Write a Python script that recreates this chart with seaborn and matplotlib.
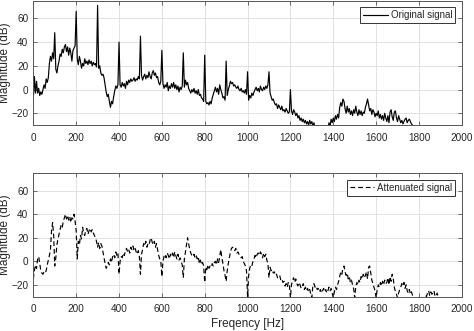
import numpy as np
import pandas as pd
import matplotlib
matplotlib.use("Agg")
import matplotlib.pyplot as plt
import seaborn as sns

# Magnitude spectra sampled every 5 Hz, one row of 20 values per 100 Hz band
FREQ_STEP = 5

original_db = [
    -8, 11, -3, 7, -3, 1, -5, -2, -4, 0, 4, 1, 9, 6, 10, 22, 28, 24, 31, 26,
    48, 17, 14, 20, 24, 30, 28, 34, 31, 36, 38, 32, 36, 29, 35, 31, 24, 33, 35, 37,
    66, 26, 21, 28, 24, 18, 22, 20, 26, 22, 24, 21, 25, 22, 24, 20, 23, 21, 22, 19,
    71, 18, 20, 14, 12, 13, 10, 4, -2, -6, -4, -10, -15, -10, -12, -6, -1, 3, 1, 4,
    40, 4, 2, 6, 3, 5, 1, 7, 4, 8, 6, 9, 7, 8, 10, 7, 9, 8, 11, 9,
    45, 12, 8, 11, 13, 9, 12, 10, 15, 11, 9, 14, 16, 12, 14, 10, 11, 6, 4, 7,
    33, 5, 1, 4, 2, 6, -1, 3, 1, 5, 2, 6, 1, 4, 0, 3, -2, 2, 0, 3,
    31, 2, 8, 4, 6, 1, -1, -3, 0, -2, 1, -3, -1, -4, 0, -5, -4, -7, -8, -10,
    29, -10, -12, -11, -13, -10, -12, -7, -4, -1, 2, -2, 1, -4, 4, 0, -3, -7, -6, -9,
    24, -5, 0, 3, 7, 5, 6, 3, 4, 2, 1, 3, 0, -1, 1, -2, -1, -3, 0, -4,
    15, -9, -5, -7, -3, -5, -2, 0, 2, -1, 1, -2, 3, 0, -1, 2, 0, 3, 1, 4,
    15, -3, -6, -9, -8, -11, -13, -12, -16, -13, -15, -17, -14, -18, -17, -19, -16, -18, -20, -19,
    0, -18, -21, -17, -19, -22, -20, -24, -22, -26, -24, -27, -25, -28, -26, -29, -27, -30, -26, -29,
    -27, -31, -28, -33, -35, -37, -38, -36, -38, -39, -37, -36, -38, -35, -34, -33, -28, -31, -25, -28,
    -24, -27, -22, -25, -21, -24, -15, -11, -14, -8, -10, -16, -20, -14, -19, -16, -21, -18, -22, -17,
    -20, -14, -19, -22, -17, -21, -18, -22, -19, -20, -15, -12, -8, -13, -18, -16, -21, -17, -19, -23,
    -20, -22, -18, -24, -21, -25, -22, -26, -20, -24, -27, -22, -28, -19, -17, -23, -26, -19, -18, -24,
    -27, -22, -25, -28, -26, -29, -27, -25, -24, -28, -26, -25, -27, -29, -30, -33, -36,
]

attenuated_db = [
    -15, -8, -3, -6, 2, 4, -2, -8, -10, -11, -9, -10, -8, -3, 1, 5, 10, 26, 33, 22,
    -4, 3, 14, 19, 23, 27, 31, 29, 34, 37, 40, 36, 39, 35, 38, 33, 37, 36, 40, 34,
    26, 2, 17, 14, 22, 19, 29, 24, 22, 27, 28, 23, 26, 28, 25, 27, 24, 22, 20, 17,
    12, 16, 11, 15, 13, 8, 3, -2, -6, -4, -1, -3, 2, -1, 4, 6, 3, 8, 5, 7,
    -11, 0, 4, 3, 7, 5, 9, 11, 8, 10, 7, 12, 10, 13, 9, 11, 8, 6, 9, 4,
    -11, 6, 10, 15, 13, 17, 12, 15, 14, 18, 20, 16, 14, 17, 12, 15, 10, 5, 2, 0,
    -13, 0, 4, 6, 3, 7, 5, 2, 6, 4, 7, 3, 8, 5, 2, 6, 1, 3, 0, -3,
    -14, 2, 8, 14, 20, 15, 10, 7, 5, 4, 6, 3, 5, 2, 4, -2, 1, -3, -1, -4,
    -18, -5, -7, -3, -6, -4, -5, -2, -4, -1, 0, -3, 2, -1, 4, 10, 3, -2, -8, -12,
    -17, -8, -2, 3, 8, 11, 12, 10, 9, 11, 7, 8, 6, 5, 3, 4, 0, -2, -4, -8,
    -30, -12, -6, -3, -4, 0, 2, 5, 3, 6, 7, 5, 8, 6, 3, 7, 4, 6, 1, -2,
    -14, -5, -8, -7, -10, -9, -12, -11, -14, -13, -12, -16, -15, -18, -17, -21, -19, -22, -18, -20,
    -31, -20, -16, -14, -18, -15, -19, -21, -18, -20, -23, -21, -19, -24, -22, -25, -23, -26, -24, -28,
    -31, -20, -19, -22, -21, -24, -23, -26, -24, -27, -25, -23, -26, -24, -27, -25, -22, -25, -23, -27,
    -31, -26, -22, -24, -20, -17, -13, -9, -11, -6, -4, -9, -12, -10, -15, -13, -18, -16, -20, -23,
    -31, -22, -18, -20, -16, -18, -13, -15, -11, -14, -12, -9, -15, -5, -4, -10, -16, -19, -22, -25,
    -31, -24, -20, -22, -18, -21, -17, -20, -16, -19, -18, -14, -20, -13, -17, -11, -15, -22, -26, -28,
    -31, -27, -24, -22, -19, -21, -18, -23, -20, -25, -27, -24, -28, -26, -29, -31, -33, -35, -34, -32,
    -34, -36, -33, -35, -31, -32, -29, -30, -27, -25, -29, -26, -28, -27, -25, -30, -29, -27, -31,
]

original_freq = np.arange(len(original_db)) * FREQ_STEP
attenuated_freq = np.arange(len(attenuated_db)) * FREQ_STEP

x_ticks = list(range(0, 2001, 200))
y_ticks = [-20, 0, 20, 40, 60]

original = pd.DataFrame({"freq": original_freq, "mag": original_db})
attenuated = pd.DataFrame({"freq": attenuated_freq, "mag": attenuated_db})

sns.set_theme(style="whitegrid")
plt.rcParams["font.family"] = ["Liberation Sans", "DejaVu Sans"]

fig = plt.figure(figsize=(4.74, 3.31), dpi=100)
ax_top = fig.add_axes([0.0703, 0.622, 0.904, 0.376])
ax_bot = fig.add_axes([0.0703, 0.104, 0.904, 0.373])

sns.lineplot(data=original, x="freq", y="mag", ax=ax_top, color="black",
             lw=0.85, sort=False, estimator=None, label="Original signal")
sns.lineplot(data=attenuated, x="freq", y="mag", ax=ax_bot, color="black",
             lw=0.85, sort=False, estimator=None, label="Attenuated signal",
             linestyle=(0, (4, 2.5)))

for ax in (ax_top, ax_bot):
    ax.set_facecolor("white")
    ax.set_xlim(0, 2000)
    ax.set_ylim(-30, 75)
    ax.set_xticks(x_ticks)
    ax.set_yticks(y_ticks)
    ax.grid(True, color="#dcdcdc", lw=0.6)
    for s in ax.spines.values():
        s.set_visible(True)
        s.set_color("#555555")
        s.set_linewidth(0.7)
    ax.tick_params(axis="both", direction="in", length=3, width=0.6,
                   color="#555555", labelsize=7.2, labelcolor="#262626",
                   top=True, right=True, bottom=True, left=True)
    ax.tick_params(axis="x", pad=5.5)
    ax.tick_params(axis="y", pad=3.5)
    ax.set_ylabel("Magnitude (dB)", fontsize=8.5, color="#262626")
    ax.yaxis.set_label_coords(-0.052, 0.5)
    ax.set_xlabel("")
    ax.legend(loc="upper right", fontsize=7, frameon=True, fancybox=False,
              edgecolor="#333333", framealpha=1, handlelength=2.5,
              borderpad=0.3, borderaxespad=0.7, handletextpad=0.3)
    ax.get_legend().get_frame().set_linewidth(0.7)

ax_bot.set_xlabel("Freqency [Hz]", fontsize=8.5, color="#262626", labelpad=2.5)

fig.savefig("out.png", dpi=100, facecolor="white")
